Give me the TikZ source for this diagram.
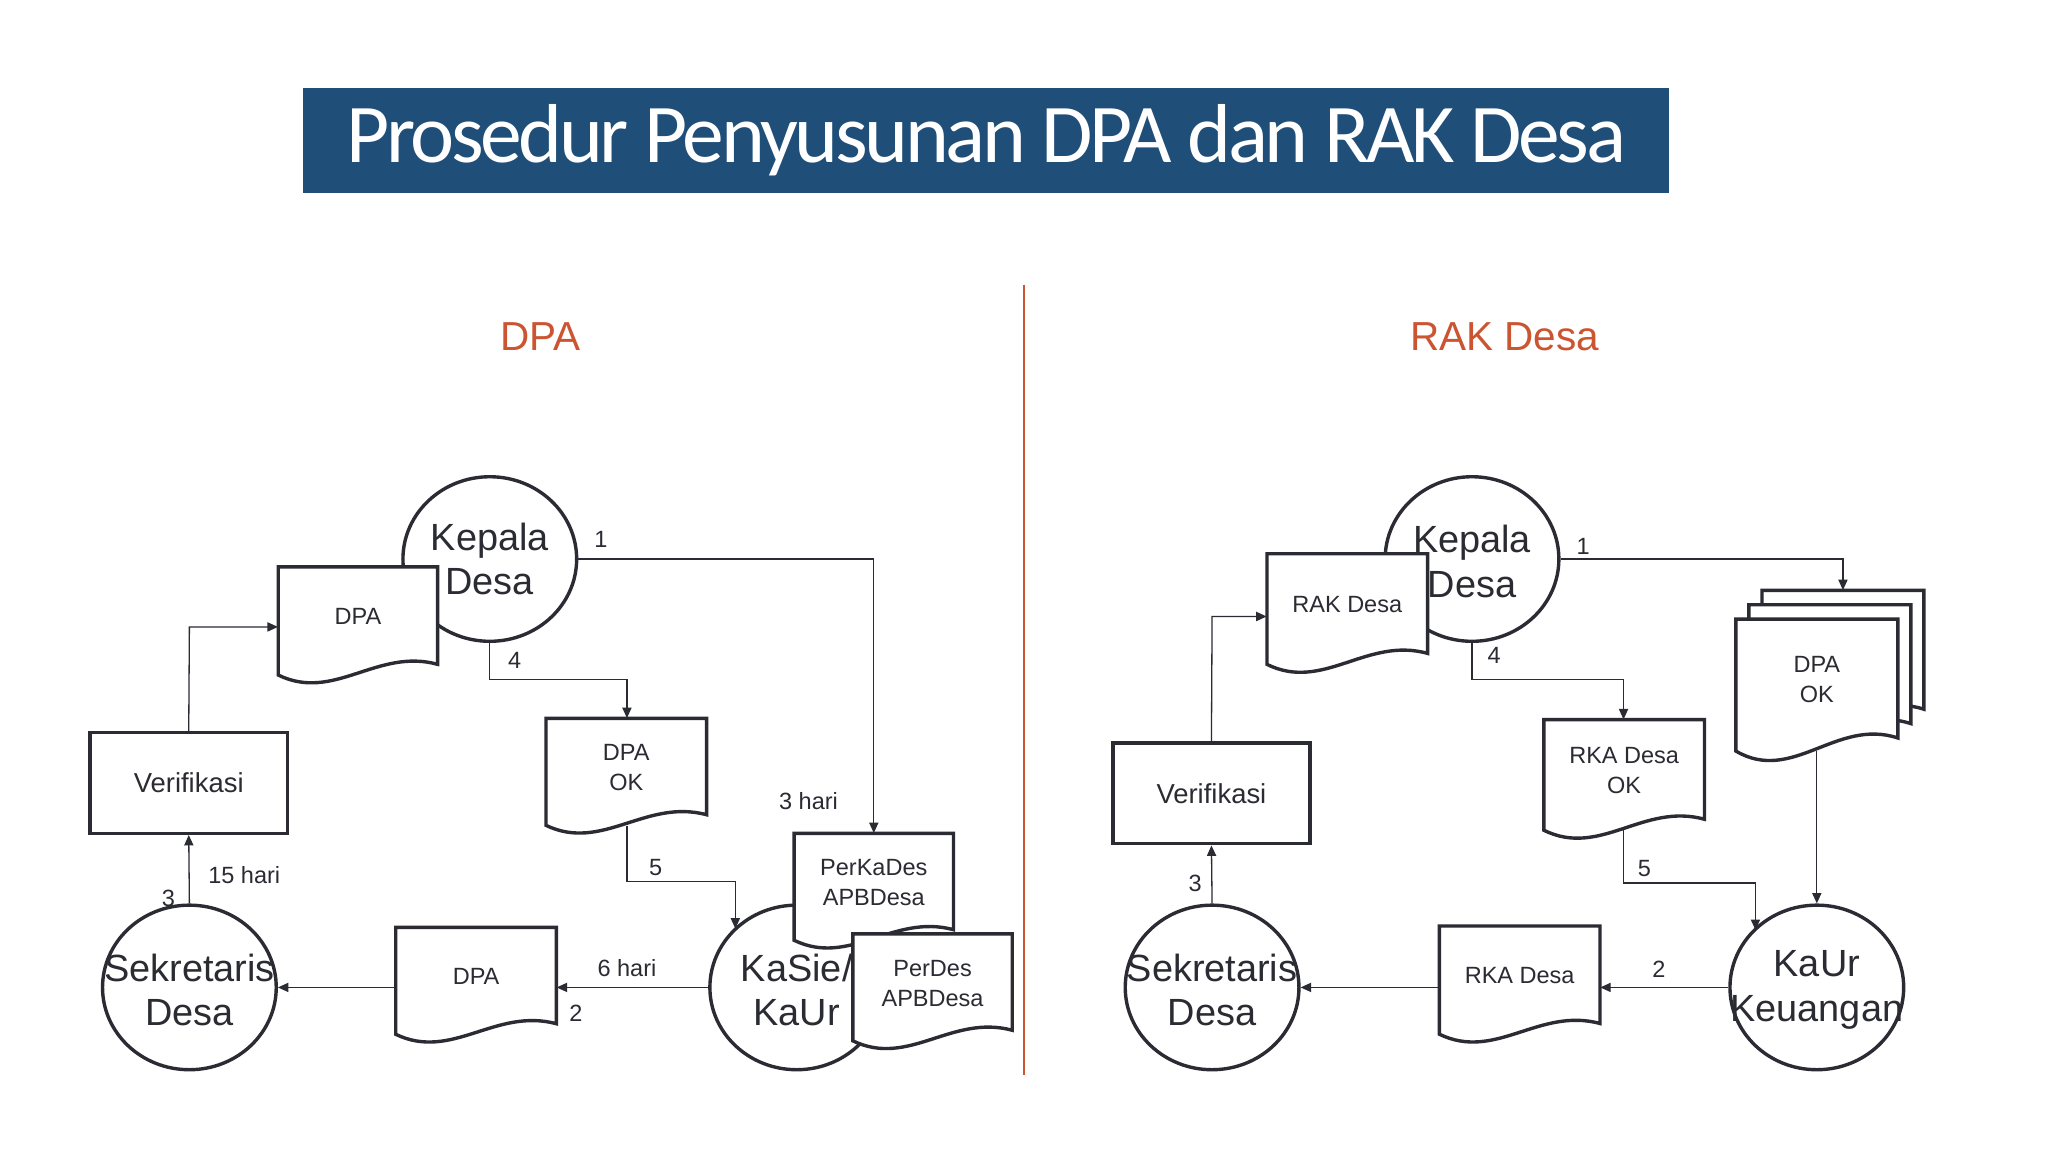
\documentclass[tikz,border=0pt]{standalone}
\usepackage{fontspec}
\setmainfont{Liberation Sans}
\newfontfamily\titlefont{Carlito}
\usetikzlibrary{arrows.meta,shapes.geometric}
\definecolor{tblue}{HTML}{1F4E79}
\definecolor{tred}{HTML}{CB5431}
\definecolor{lk}{HTML}{2B2B33}
\tikzset{
 docline/.style={line width=2.6pt,draw=lk,fill=white,line join=miter},
 circ/.style={ellipse,draw=lk,line width=2.6pt,minimum width=133pt,minimum height=126pt,inner sep=0},
 ctxt/.style={align=center,font=\fontsize{29}{34}\selectfont,text=lk,inner sep=0},
 box/.style={draw=lk,line width=2.6pt,fill=white,inner sep=0,font=\fontsize{21}{25}\selectfont,text=lk},
 dtxt/.style={align=center,font=\fontsize{18}{23}\selectfont,text=lk,inner sep=0},
 con/.style={draw=lk,line width=1pt,-{Triangle[length=8pt,width=7pt]}},
 lab/.style={font=\fontsize{18}{22}\selectfont,text=lk,inner sep=0},
 head/.style={font=\fontsize{31}{36}\selectfont,text=tred}
}
\newcommand\docu[6]{%
 \pgfmathsetmacro\w{#4-#2}\pgfmathsetmacro\h{#5-#3}%
 \pgfmathsetmacro\yl{#5-0.09*\h}\pgfmathsetmacro\yr{#5-0.18*\h}%
 \pgfmathsetmacro\ca{#2+0.35*\w}\pgfmathsetmacro\cay{#5+0.14*\h}%
 \pgfmathsetmacro\cb{#2+0.62*\w}\pgfmathsetmacro\cby{#5-0.32*\h}%
 \pgfmathsetmacro\mx{(#2+#4)/2}\pgfmathsetmacro\my{(#3+\yl)/2}%
 \pgfmathsetmacro\hh{\yl-#3}\pgfmathsetmacro\ty{#3+0.42*\h}%
 \draw[docline] (#2,\yl) -- (#2,#3) -- (#4,#3) -- (#4,\yr) .. controls (\cb,\cby) and (\ca,\cay) .. (#2,\yl) -- cycle;
 \node[inner sep=0,minimum width=\w pt,minimum height=\hh pt] (#1) at (\mx,\my) {};
 \node[dtxt] at (\mx,\ty) {#6};
}
\begin{document}
\begin{tikzpicture}[x=1pt,y=-1pt]
\useasboundingbox (0,0) rectangle (1568,882);
\fill[white] (0,0) rectangle (1568,882);
% title
\node[fill=tblue,minimum width=1046pt,minimum height=81pt,inner sep=0,text=white,font=\titlefont\fontsize{64}{68}\selectfont] (title) at (755,107.5) {\addfontfeature{LetterSpace=-4}Prosedur Penyusunan DPA dan RAK Desa};
\draw[tred,line width=2pt] (784,218) coordinate (d1) -- (784,823) coordinate (d2);
\node[head] (h1) at (414,258) {DPA};
\node[head] (h2) at (1152,258) {RAK Desa};

% ---------- left ----------
\node[circ] (kd) at (375,428) {};
\node[ctxt] (kdt) at (375,428) {Kepala\\Desa};
\docu{dpa1}{213}{434}{335}{525}{DPA}
\node[box,minimum width=151pt,minimum height=77pt] (ver) at (144.5,599.5) {Verifikasi};
\docu{dpaok}{418}{550}{541}{640}{DPA\\OK}
\node[circ] (ks) at (610,756) {};
\node[ctxt] (kst) at (610,758) {KaSie/\\KaUr};
\docu{pkd}{608}{638}{730}{728}{PerKaDes\\APBDesa}
\docu{pd}{653}{715}{775}{805}{PerDes\\APBDesa}
\docu{dpa2}{303}{710}{426}{800}{DPA}
\node[circ] (sk) at (145,756) {};
\node[ctxt] (skt) at (145,758) {Sekretaris\\Desa};

\draw[con] (kd.east) -- (669,428) -- (pkd.north -| 669,0);
\node[lab] (l1) at (460,413) {1};
\node[lab] (l3h) at (619,613) {3 hari};
\draw[con] (kd.south) -- (375,520) -- (480,520) -- (dpaok.north -| 480,0);
\node[lab] (l4) at (394,506) {4};
\draw[con] (dpaok.south -| 480,0) -- (480,675) -- (563,675) -- (563,711);
\node[lab] (l5) at (502,664) {5};
\draw[con] (ks.west) -- (dpa2.east |- 0,756);
\node[lab] (l6) at (480,741) {6 hari};
\node[lab] (l2) at (441,776) {2};
\draw[con] (dpa2.west |- 0,756) -- (sk.east);
\draw[con] (sk.north) -- (ver.south);
\node[lab] (l15) at (187,670) {15 hari};
\node[lab] (l3) at (129,688) {3};
\draw[con] (ver.north) -- (145,480) -- (dpa1.west |- 0,480);

% ---------- right ----------
\node[circ] (kd2) at (1127,428) {};
\node[ctxt] (kd2t) at (1127,430) {Kepala\\Desa};
\docu{rak}{970}{424}{1093}{517}{RAK Desa}
\node[box,minimum width=151pt,minimum height=77pt] (ver2) at (927.5,607.5) {Verifikasi};
\docu{rkaok}{1182}{551}{1305}{644}{RKA Desa\\OK}
\docu{st3}{1349}{452}{1473}{563}{}
\docu{st2}{1339}{463}{1463}{574}{}
\docu{st1}{1329}{474}{1453}{585}{DPA\\OK}
\node[circ] (ku) at (1391,756) {};
\node[ctxt] (kut) at (1391,758) {KaUr\\Keuangan};
\docu{rka}{1102}{709}{1225}{800}{RKA Desa}
\node[circ] (sk2) at (928,756) {};
\node[ctxt] (sk2t) at (928,758) {Sekretaris\\Desa};

\draw[con] (kd2.east) -- (1411,428) -- (st3.north -| 1411,0);
\node[lab] (r1) at (1212,418) {1};
\draw[con] (kd2.south) -- (1127,520) -- (1243,520) -- (rkaok.north -| 1243,0);
\node[lab] (r4) at (1144,502) {4};
\draw[con] (rkaok.south -| 1243,0) -- (1243,676) -- (1344,676) -- (1344,712);
\node[lab] (r5) at (1259,665) {5};
\draw[con] (st1.south -| 1391,0) -- (ku.north);
\draw[con] (ku.west) -- (rka.east |- 0,756);
\node[lab] (r2) at (1270,742) {2};
\draw[con] (rka.west |- 0,756) -- (sk2.east);
\draw[con] (sk2.north) -- (ver2.south);
\node[lab] (r3) at (915,676) {3};
\draw[con] (ver2.north) -- (928,472) -- (rak.west |- 0,472);
\end{tikzpicture}
\end{document}
